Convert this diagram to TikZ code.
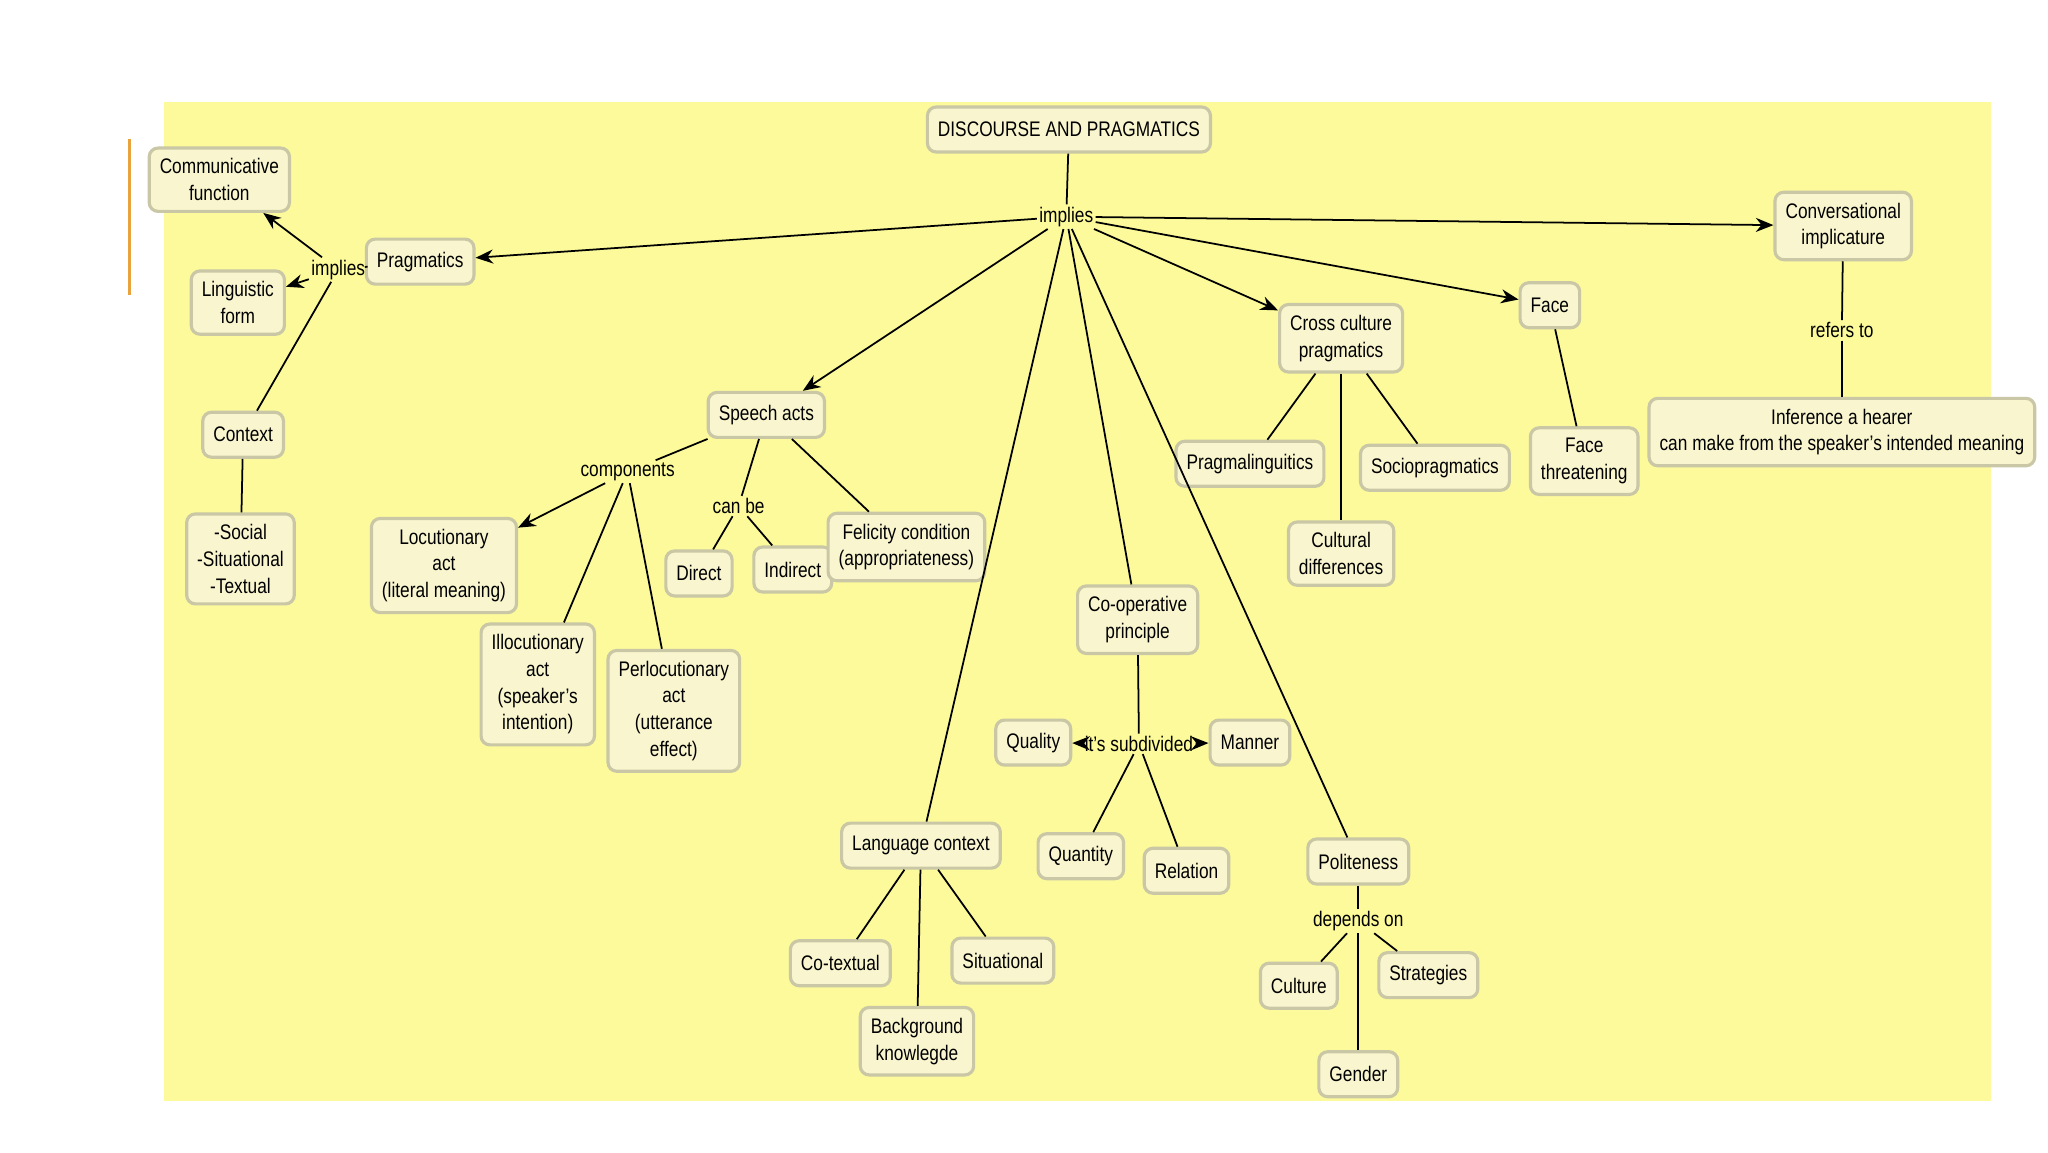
\documentclass[tikz,border=0pt]{standalone}
\usepackage{fontspec}
\setmainfont[FakeStretch=0.82]{Liberation Sans}
\usetikzlibrary{arrows.meta}
\definecolor{bgy}{HTML}{FCFA9A}
\definecolor{boxf}{HTML}{F9F6CF}
\definecolor{boxd}{HTML}{C9C7A6}
\definecolor{orng}{HTML}{E8A33C}
\tikzset{
 bx/.style={draw=boxd,line width=0.9pt,fill=boxf,rounded corners=2.5pt,align=center,font=\fontsize{6}{7.6}\selectfont,inner sep=3pt,minimum height=0.45cm},
 lbl/.style={font=\fontsize{6}{7}\selectfont,inner sep=0.5pt},
 ln/.style={line width=0.5pt},
 ar/.style={line width=0.5pt,-{Stealth[length=5pt,width=4pt]}}
}
\begin{document}
\begin{tikzpicture}[x=0.013213cm,y=-0.013213cm]
\useasboundingbox (0,0) rectangle (1550,872);
\fill[white] (0,0) rectangle (1550,872);
\fill[bgy] (124,77) rectangle (1507,833);
\draw[orng,line width=1pt] (98,105) -- (98,223);
\node[bx] (t) at (809,98) {DISCOURSE AND PRAGMATICS};
\node[lbl] (im) at (807,164) {implies};
\node[bx] (pr) at (318,198) {Pragmatics};
\node[lbl] (im2) at (256,204) {implies};
\node[bx] (cf) at (166,136) {Communicative\\function};
\node[bx] (lf) at (180,229) {Linguistic\\form};
\node[bx] (cx) at (184,329) {Context};
\node[bx] (so) at (182,423) {-Social\\-Situational\\-Textual};
\node[bx] (sa) at (580,314) {Speech acts};
\node[lbl] (co) at (475,357) {components};
\node[lbl] (cb) at (559,383) {can be};
\node[bx] (lo) at (336,428) {Locutionary\\act\\(literal meaning)};
\node[bx] (il) at (407,518) {Illocutionary\\act\\(speaker's\\intention)};
\node[bx] (pe) at (510,538) {Perlocutionary\\act\\(utterance\\effect)};
\node[bx] (di) at (529,434) {Direct};
\node[bx] (in) at (600,431) {Indirect};
\node[bx] (fe) at (686,414) {Felicity condition\\(appropriateness)};
\node[bx] (cc) at (1015,256) {Cross culture\\pragmatics};
\node[bx] (pl) at (946,351) {Pragmalinguitics};
\node[bx] (cd) at (1015,419) {Cultural\\differences};
\node[bx] (sp) at (1086,354) {Sociopragmatics};
\node[bx] (fa) at (1173,231) {Face};
\node[bx] (ft) at (1199,349) {Face\\threatening};
\node[bx] (ci) at (1395,171) {Conversational\\implicature};
\node[lbl] (rt) at (1394,250) {refers to};
\node[bx] (ih) at (1394,327) {Inference a hearer\\can make from the speaker's intended meaning};
\node[bx] (cp) at (861,469) {Co-operative\\principle};
\node[lbl] (sd) at (862,563) {it's subdivided};
\node[bx] (ql) at (782,562) {Quality};
\node[bx] (mn) at (946,562) {Manner};
\node[bx] (qn) at (818,648) {Quantity};
\node[bx] (re) at (898,659) {Relation};
\node[bx] (lc) at (697,640) {Language context};
\node[bx] (ct) at (636,729) {Co-textual};
\node[bx] (si) at (759,727) {Situational};
\node[bx] (bk) at (694,788) {Background\\knowlegde};
\node[bx] (po) at (1028,652) {Politeness};
\node[lbl] (dp) at (1028,697) {depends on};
\node[bx] (cu) at (983,746) {Culture};
\node[bx] (st) at (1081,738) {Strategies};
\node[bx] (ge) at (1028,813) {Gender};
\draw[ln] (t) -- (im);
\draw[ar] (im) -- (pr);
\draw[ar] (im) -- (sa);
\draw[ln] (im) -- (lc);
\draw[ln] (im) -- (cp);
\draw[ln] (im) -- (po);
\draw[ar] (im) -- (cc);
\draw[ar] (im) -- (fa);
\draw[ar] (im) -- (ci);
\draw[ln] (pr) -- (im2);
\draw[ar] (im2) -- (cf);
\draw[ar] (im2) -- (lf);
\draw[ln] (im2) -- (cx);
\draw[ln] (cx) -- (so);
\draw[ln] (sa) -- (co);
\draw[ar] (co) -- (lo);
\draw[ln] (co) -- (il);
\draw[ln] (co) -- (pe);
\draw[ln] (sa) -- (cb);
\draw[ln] (cb) -- (di);
\draw[ln] (cb) -- (in);
\draw[ln] (sa) -- (fe);
\draw[ln] (cc) -- (pl);
\draw[ln] (cc) -- (cd);
\draw[ln] (cc) -- (sp);
\draw[ln] (fa) -- (ft);
\draw[ln] (ci) -- (rt);
\draw[ln] (rt) -- (ih);
\draw[ln] (cp) -- (sd);
\draw[ar] (sd) -- (ql);
\draw[ar] (sd) -- (mn);
\draw[ln] (sd) -- (qn);
\draw[ln] (sd) -- (re);
\draw[ln] (lc) -- (ct);
\draw[ln] (lc) -- (si);
\draw[ln] (lc) -- (bk);
\draw[ln] (po) -- (dp);
\draw[ln] (dp) -- (cu);
\draw[ln] (dp) -- (st);
\draw[ln] (dp) -- (ge);
\end{tikzpicture}
\end{document}
